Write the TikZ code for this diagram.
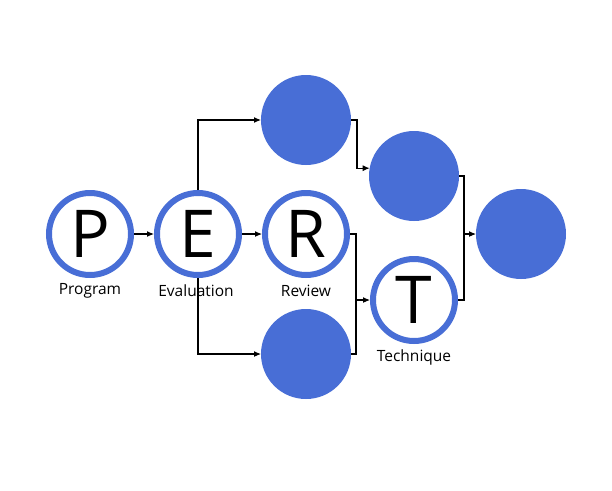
\documentclass[tikz,border=0pt]{standalone}
\usepackage{fontspec}
\setmainfont{Open Sans}
\usetikzlibrary{arrows.meta}
\definecolor{pblue}{RGB}{72,110,214}
\begin{document}
\begin{tikzpicture}[x=1pt,y=-1pt,
  ring/.style={circle,draw=pblue,line width=6pt,minimum size=82pt,inner sep=0pt,
    font=\fontsize{66}{66}\selectfont},
  disc/.style={circle,fill=pblue,minimum size=90pt,inner sep=0pt,outer sep=0pt},
  lbl/.style={font=\fontsize{15.5}{18}\selectfont,inner sep=0pt},
  conn/.style={line width=1.1pt,-{Latex[length=7pt,width=6pt]}},
  seg/.style={line width=1.1pt}]
\useasboundingbox (0,0) rectangle (612,490);
\fill[white] (0,0) rectangle (612,490);
% nodes
\node[ring] (P) at (90,234) {P};
\node[ring] (E) at (198,234) {E};
\node[ring] (R) at (306,234) {R};
\node[ring] (T) at (414,300) {T};
\node[disc] (A) at (306,120) {};
\node[disc] (B) at (414,176) {};
\node[disc] (C) at (306,354) {};
\node[disc] (D) at (521,234) {};
% labels
\node[lbl] (lp) at (90,291) {Program};
\node[lbl] (le) at (196,291) {Evaluation};
\node[lbl] (lr) at (306,291) {Review};
\node[lbl] (lt) at (414,357) {Technique};
% connectors
\draw[conn] (P) -- (E);
\draw[conn] (E) -- (R);
\draw[conn] (E.north) |- (A.west);
\draw[conn] (E.south) |- (C.west);
\draw[conn] (A.east) -- ++(6,0) |- (B.170);
\draw[seg] (R.east) -- ++(6,0) coordinate (j2) -- (j2 |- C.east) -- (C.east);
\draw[conn] (j2 |- T.west) -- (T.west);
\draw[seg] (B.east) -- ++(5,0) coordinate (j3) -- (j3 |- T.east) -- (T.east);
\draw[conn] (j3 |- D.west) -- (D.west);
\end{tikzpicture}
\end{document}
